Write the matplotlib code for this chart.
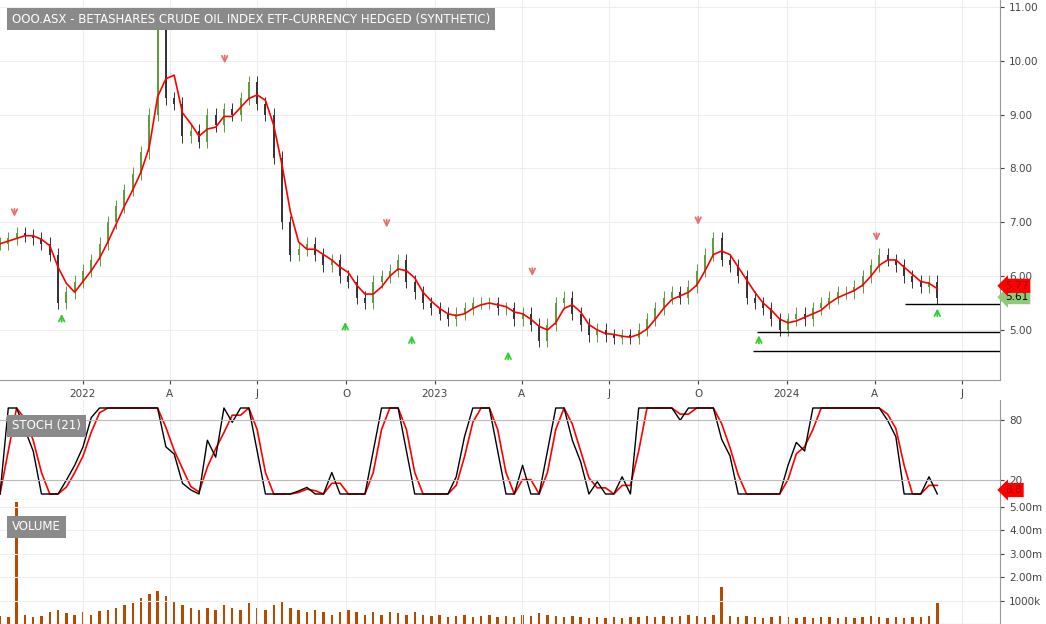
import matplotlib.pyplot as plt
import numpy as np
import pandas as pd

# approximate closes, spread evenly from early Oct 2021 to early Jun 2024
closes = [6.6, 6.7, 6.8, 6.75, 6.7, 6.6, 6.4, 5.5, 5.7, 5.9, 6.1, 6.3, 6.6, 7.0, 7.3, 7.6,
          7.9, 8.3, 9.0, 10.7, 9.3, 9.2, 8.6, 8.7, 8.5, 9.0, 8.8, 9.1, 9.0, 9.3, 9.6, 9.2,
          9.0, 8.2, 7.0, 6.4, 6.5, 6.6, 6.4, 6.2, 6.3, 6.0, 5.9, 5.6, 5.5, 5.9, 6.0, 6.1,
          6.3, 5.9, 5.7, 5.5, 5.4, 5.3, 5.2, 5.3, 5.4, 5.5, 5.5, 5.5, 5.4, 5.4, 5.2, 5.3,
          5.1, 4.8, 5.1, 5.5, 5.6, 5.3, 5.1, 4.9, 5.0, 4.9, 4.85, 4.9, 4.85, 5.0, 5.2, 5.4,
          5.6, 5.7, 5.6, 5.8, 6.1, 6.4, 6.7, 6.3, 6.2, 6.0, 5.6, 5.5, 5.4, 5.2, 5.0, 5.2,
          5.3, 5.2, 5.4, 5.5, 5.6, 5.7, 5.7, 5.8, 6.0, 6.2, 6.4, 6.3, 6.2, 6.0, 5.9, 5.8,
          5.9, 5.6]
volumes = [0.35, 0.3, 5.2, 0.4, 0.3, 0.35, 0.5, 0.6, 0.45, 0.4, 0.5, 0.4, 0.55, 0.6, 0.7, 0.8,
           0.9, 1.1, 1.3, 1.4, 1.2, 1.0, 0.8, 0.7, 0.6, 0.7, 0.6, 0.8, 0.7, 0.6, 0.9, 0.7,
           0.6, 0.8, 1.0, 0.7, 0.6, 0.5, 0.6, 0.5, 0.4, 0.5, 0.6, 0.5, 0.4, 0.5, 0.4, 0.5,
           0.45, 0.4, 0.5, 0.4, 0.35, 0.4, 0.3, 0.35, 0.4, 0.3, 0.35, 0.4, 0.3, 0.35, 0.3, 0.4,
           0.35, 0.45, 0.4, 0.35, 0.3, 0.35, 0.3, 0.25, 0.3, 0.25, 0.3, 0.25, 0.3, 0.3, 0.35, 0.3,
           0.35, 0.3, 0.35, 0.4, 0.35, 0.3, 0.4, 1.6, 0.35, 0.3, 0.35, 0.3, 0.25, 0.3, 0.35, 0.3,
           0.25, 0.3, 0.25, 0.3, 0.3, 0.25, 0.3, 0.25, 0.3, 0.35, 0.3, 0.25, 0.3, 0.25, 0.3, 0.3,
           0.35, 0.9]
dates = pd.date_range('2021-10-07', '2024-06-05', periods=len(closes))

down_arrows = [('2021-10-22', 7.05), ('2022-05-28', 9.9), ('2022-11-12', 6.85), ('2023-04-12', 5.95),
               ('2023-10-01', 6.9), ('2024-04-03', 6.6)]
up_arrows = [('2021-12-10', 5.1), ('2022-09-30', 4.95), ('2022-12-08', 4.7), ('2023-03-18', 4.4),
             ('2023-12-03', 4.7), ('2024-06-05', 5.2)]
support = [('2024-05-02', 5.48), ('2023-12-01', 4.97), ('2023-11-27', 4.60)]

c = np.array(closes)
opens = np.r_[c[0], c[:-1]]
ma = pd.Series(c).rolling(3, min_periods=1).mean()
lo = pd.Series(c).rolling(6, min_periods=1).min()
hi = pd.Series(c).rolling(6, min_periods=1).max()
k = ((c - lo) / (hi - lo).replace(0, 1) * 86 + 6)
d = k.rolling(2, min_periods=1).mean()

W, H = 1046, 624
fig = plt.figure(figsize=(W / 100, H / 100), dpi=100)
right = 1000 / W
ax1 = fig.add_axes([0, 1 - 380 / H, right, 380 / H])
ax2 = fig.add_axes([0, 1 - 500 / H, right, 100 / H], sharex=ax1)
ax3 = fig.add_axes([0, 0, right, 124 / H], sharex=ax1)

for i in range(len(c)):
    col = '#5a9e3a' if c[i] >= opens[i] else '#333333'
    ax1.vlines(dates[i], min(c[i], opens[i]) - 0.12, max(c[i], opens[i]) + 0.12, color=col, lw=0.7)
    ax1.vlines(dates[i], min(c[i], opens[i]), max(c[i], opens[i]), color=col, lw=1.4)
ax1.plot(dates, ma, color='red', lw=1.2)
for dt, y in down_arrows:
    ax1.annotate('', (pd.Timestamp(dt), y), (pd.Timestamp(dt), y + 0.25),
                 arrowprops=dict(arrowstyle='->', color='#e87070', lw=1.3))
for dt, y in up_arrows:
    ax1.annotate('', (pd.Timestamp(dt), y + 0.25), (pd.Timestamp(dt), y),
                 arrowprops=dict(arrowstyle='->', color='#33cc33', lw=1.3))
for dt, y in support:
    ax1.hlines(y, pd.Timestamp(dt), pd.Timestamp('2024-08-20'), color='black', lw=1)
ax1.set_ylim(4.07, 11.13)
ax1.set_yticks([5, 6, 7, 8, 9, 10, 11])
ax1.set_yticklabels(['%.2f' % v for v in [5, 6, 7, 8, 9, 10, 11]])
ax1.text(1.005, (5.61 - 4.07) / 7.06, '5.61', transform=ax1.transAxes, fontsize=7.5, va='center',
         bbox=dict(boxstyle='larrow,pad=0.2', fc='#8fc97a', ec='none'))
ax1.text(1.005, (5.82 - 4.07) / 7.06, '5.77', transform=ax1.transAxes, fontsize=7.5, va='center',
         color='#aa0000', bbox=dict(boxstyle='larrow,pad=0.2', fc='red', ec='none'))

ax2.plot(dates, d, color='red', lw=1.2)
ax2.plot(dates, k, color='black', lw=1)
ax2.set_ylim(0, 100)
ax2.set_yticks([20, 80])
ax2.axhline(20, color='#bbbbbb', lw=0.8)
ax2.axhline(80, color='#bbbbbb', lw=0.8)
ax2.text(1.005, 0.1, '8.8', transform=ax2.transAxes, fontsize=7.5, va='center', color='#aa0000',
         bbox=dict(boxstyle='larrow,pad=0.2', fc='red', ec='none'))

ax3.bar(dates, volumes, width=2.5, color='#b84a00')
ax3.set_ylim(0, 5.3)
ax3.set_yticks([1, 2, 3, 4, 5])
ax3.set_yticklabels(['1000k', '2.00m', '3.00m', '4.00m', '5.00m'])

ax1.set_xlim(pd.Timestamp('2021-10-07'), pd.Timestamp('2024-08-09'))
ticks = pd.to_datetime(['2022-01-01', '2022-04-01', '2022-07-01', '2022-10-01', '2023-01-01', '2023-04-01',
                        '2023-07-01', '2023-10-01', '2024-01-01', '2024-04-01', '2024-07-01'])
labels = ['2022', 'A', 'J', 'O', '2023', 'A', 'J', 'O', '2024', 'A', 'J']
ax1.set_xticks(ticks)
ax1.set_xticklabels(labels)
for ax in (ax1, ax2, ax3):
    ax.yaxis.tick_right()
    ax.grid(True, color='#eeeeee', lw=0.8)
    ax.tick_params(labelsize=7.5, colors='#444444', length=3)
    for s in ('top', 'left'):
        ax.spines[s].set_visible(False)
    for s in ('right', 'bottom'):
        ax.spines[s].set_color('#999999')
ax2.tick_params(axis='x', labelbottom=False, length=0)
ax3.tick_params(axis='x', labelbottom=False, length=0)
ax1.tick_params(axis='x', labelbottom=True)

box = dict(boxstyle='square,pad=0.4', fc='#8a8a8a', ec='none')
fig.text(12 / W, 1 - 19 / H, 'OOO.ASX - BETASHARES CRUDE OIL INDEX ETF-CURRENCY HEDGED (SYNTHETIC)',
         color='white', fontsize=8.5, va='center', bbox=box)
fig.text(12 / W, 1 - 426 / H, 'STOCH (21)', color='white', fontsize=8.5, va='center', bbox=box)
fig.text(12 / W, 1 - 527 / H, 'VOLUME', color='white', fontsize=8.5, va='center', bbox=box)
fig.savefig('out.png', dpi=100)
